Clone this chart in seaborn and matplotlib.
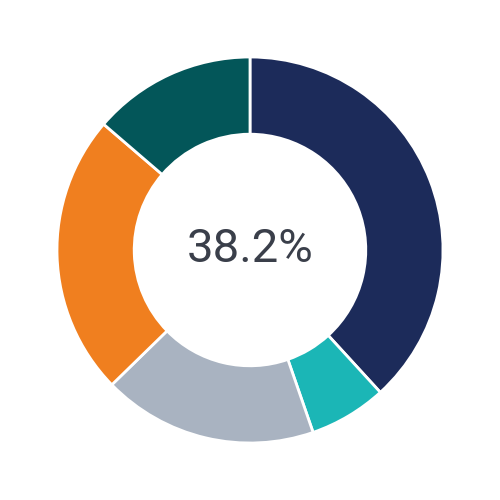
import matplotlib
matplotlib.use("Agg")
import matplotlib.pyplot as plt
import seaborn as sns

categories = ["Navy", "Teal", "Gray", "Orange", "Green"]
values = [38.2, 6.5, 18.0, 23.6, 13.7]
colors = ["#1c2b5a", "#1bb6b6", "#a9b3c1", "#f07f1f", "#035659"]
center_label = "38.2%"

sns.set_style("white")
plt.rcParams['font.family'] = ['Roboto', 'DejaVu Sans']

fig = plt.figure(figsize=(5, 5), dpi=100)
ax = fig.add_axes([0, 0, 1, 1])
ax.pie(values, colors=colors, startangle=90, counterclock=False,
       radius=1.0,
       wedgeprops=dict(width=0.4, edgecolor="white", linewidth=2))
span = 250 / 193
ax.set_xlim(-span, span)
ax.set_ylim(-span, span)
ax.set_aspect("equal")
ax.axis("off")
ax.text(0, 0.005, center_label, ha="center", va="center", fontsize=34, color="#3a3f4a")
fig.savefig("out.png", dpi=100, facecolor="white")
